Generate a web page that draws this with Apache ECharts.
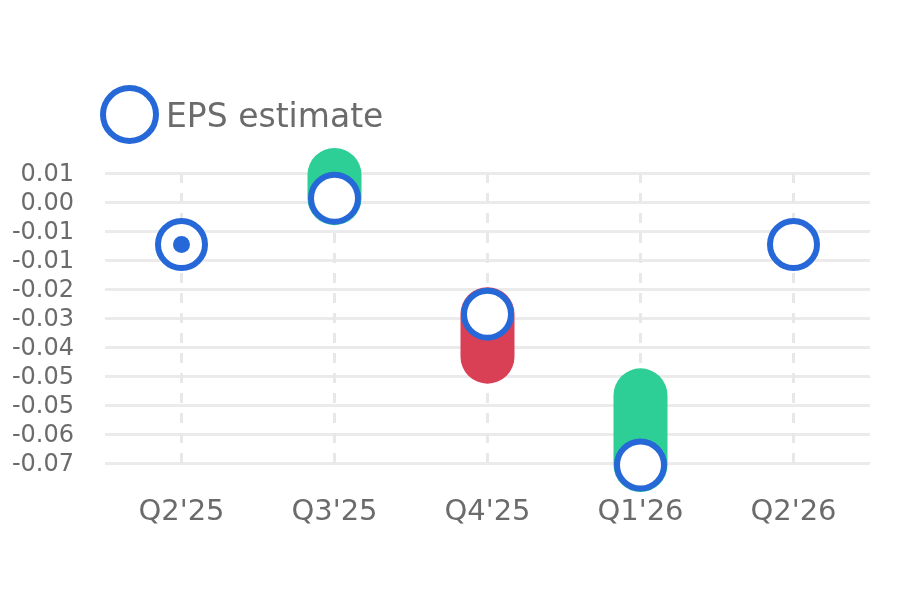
<!DOCTYPE html>
<html>
<head>
<meta charset="utf-8">
<style>
  html, body { margin: 0; padding: 0; background: #fff; }
  #chart { width: 900px; height: 600px; }
</style>
<script src="https://cdn.jsdelivr.net/npm/echarts@6/dist/echarts.min.js"></script>
</head>
<body>
<div id="chart"></div>
<script>
const quarters = ["Q2'25", "Q3'25", "Q4'25", "Q1'26", "Q2'26"];
const estimates = [-0.011, 0.001, -0.029, -0.068, -0.011];
const actuals = [-0.011, 0.007, -0.040, -0.050, null];
const yTickLabels = ['-0.07', '-0.06', '-0.05', '-0.05', '-0.04', '-0.03', '-0.02', '-0.01', '-0.01', '0.00', '0.01'];

const yMin = -0.0675;
const yStep = 0.0075;

const BLUE = '#2768d8';
const GREEN = '#2ecf96';
const RED = '#d94056';
const GREY = '#6b6b6b';

// capsule from estimate to actual, green for a beat, red for a miss
function renderGap(params, api) {
    const idx = api.value(0);
    const est = api.value(1);
    const act = api.value(2);
    const p1 = api.coord([idx, est]);
    const p2 = api.coord([idx, act]);
    return {
        type: 'line',
        shape: { x1: p1[0], y1: p1[1], x2: p2[0], y2: p2[1] },
        style: {
            stroke: act > est ? GREEN : RED,
            lineWidth: 54,
            lineCap: 'round'
        }
    };
}

const chart = echarts.init(document.getElementById('chart'));

const gapData = [];
const hitData = [];
quarters.forEach((q, i) => {
    if (actuals[i] === null) return;
    if (actuals[i] === estimates[i]) hitData.push([i, actuals[i]]);
    else gapData.push([i, estimates[i], actuals[i]]);
});

chart.setOption({
    animation: false,
    backgroundColor: '#fff',
    legend: {
        data: ['EPS estimate'],
        left: 95,
        top: 80,
        itemWidth: 53,
        itemHeight: 53,
        itemGap: 10,
        itemStyle: { color: '#fff', borderColor: BLUE, borderWidth: 6 },
        formatter: '{t|{name}}',
        textStyle: {
            rich: {
                t: { fontFamily: 'DejaVu Sans', fontSize: 33, color: GREY, padding: [8, 0, 0, 5] }
            }
        }
    },
    grid: { left: 105, right: 30, top: 173, bottom: 137 },
    xAxis: {
        type: 'category',
        data: quarters,
        axisLine: { show: false },
        axisTick: { show: false },
        axisLabel: { fontFamily: 'DejaVu Sans', fontSize: 29, color: GREY, margin: 35 },
        splitLine: { show: false }
    },
    yAxis: {
        type: 'value',
        min: yMin,
        max: 0.0075,
        interval: yStep,
        axisLine: { show: false },
        axisTick: { show: false },
        axisLabel: {
            color: GREY,
            margin: 31,
            formatter: v => '{v|' + yTickLabels[Math.round((v - yMin) / yStep)] + '}',
            rich: {
                v: { fontFamily: 'DejaVu Sans', fontSize: 24, color: GREY, padding: [4, 0, 0, 0] }
            }
        },
        splitLine: { lineStyle: { color: '#ebebeb', width: 3 } }
    },
    series: [
        {
            type: 'line',
            name: 'grid',
            z: 1,
            data: [],
            markLine: {
                z: 1,
                silent: true,
                symbol: 'none',
                label: { show: false },
                lineStyle: { color: '#e8e8e8', width: 3, type: [10, 10] },
                data: quarters.map(q => ({ xAxis: q }))
            }
        },
        {
            type: 'custom',
            name: 'gap',
            z: 2,
            clip: false,
            renderItem: renderGap,
            encode: { x: 0, y: [1, 2] },
            data: gapData
        },
        {
            type: 'scatter',
            name: 'EPS estimate',
            z: 3,
            clip: false,
            symbol: 'circle',
            symbolSize: 47,
            itemStyle: { color: '#fff', borderColor: BLUE, borderWidth: 6, opacity: 1 },
            data: estimates.map((v, i) => [i, v])
        },
        {
            type: 'scatter',
            name: 'EPS actual',
            z: 4,
            symbol: 'circle',
            symbolSize: 17,
            itemStyle: { color: BLUE, opacity: 1 },
            data: hitData
        }
    ]
});
</script>
</body>
</html>
